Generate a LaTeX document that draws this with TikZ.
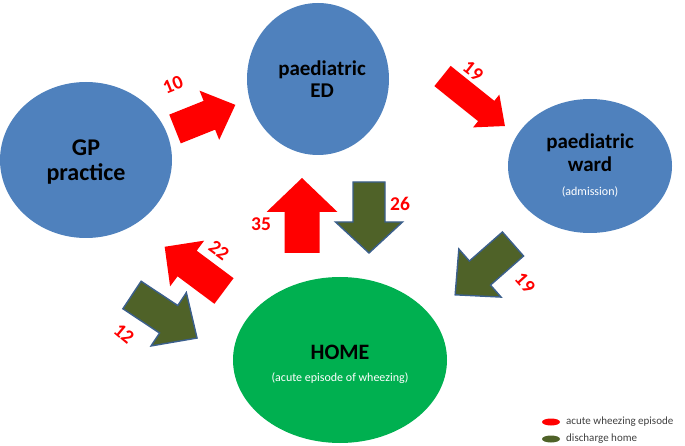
\documentclass[tikz,border=0pt]{standalone}
\usepackage{fontspec}
\setmainfont{Carlito}
\definecolor{cblue}{HTML}{4F81BD}
\definecolor{cgreen}{HTML}{00B050}
\definecolor{cred}{HTML}{FF0000}
\definecolor{colive}{HTML}{4F6228}
\definecolor{cedge}{HTML}{3B5F8C}
\definecolor{legtext}{HTML}{404040}
\newcommand\blockarrow[8]{%
  % #1 x, #2 y (tail centre), #3 angle, #4 length, #5 shaft width, #6 head width, #7 head length, #8 style
  \draw[#8, shift={(#1,#2)}, rotate=#3]
    (0,-#5/2) -- ({#4-#7},-#5/2) -- ({#4-#7},-#6/2) -- (#4,0) -- ({#4-#7},#6/2) -- ({#4-#7},#5/2) -- (0,#5/2) -- cycle;}
\tikzset{
  place/.style={ellipse, fill=cblue, inner sep=0pt, font=\bfseries, align=center},
  homeplace/.style={ellipse, fill=cgreen, inner sep=0pt, font=\bfseries, align=center},
  redarrow/.style={fill=cred, draw=none},
  olivearrow/.style={fill=colive, draw=cedge, line width=1.4pt, line join=miter},
  numlabel/.style={text=cred, font=\fontsize{19.5}{19.5}\selectfont\bfseries, inner sep=0pt},
  sub/.style={text=white, font=\fontsize{12}{12}\selectfont},
  legdot/.style={ellipse, minimum width=18pt, minimum height=7pt, inner sep=0pt},
  legtxt/.style={text=legtext, font=\fontsize{11}{12}\selectfont, anchor=west, inner sep=0pt}
}
\usetikzlibrary{shapes.geometric}
\begin{document}
\begin{tikzpicture}[x=1pt,y=-1pt]
\useasboundingbox (0,0) rectangle (685,446);
% places
\node[place, minimum width=172pt, minimum height=156pt] (gp) at (86,160) {};
\node[font=\fontsize{24}{25}\selectfont\bfseries, align=center] (gpt) at (86,162) {GP\\practice};
\node[place, minimum width=142pt, minimum height=152pt] (ed) at (318,79) {};
\node[font=\fontsize{21}{22}\selectfont\bfseries, align=center] (edt) at (322,79) {paediatric\\ED};
\node[place, minimum width=164pt, minimum height=134pt] (ward) at (590,166) {};
\node[font=\fontsize{21}{23}\selectfont\bfseries, align=center] (wardt) at (590,153) {paediatric\\ward};
\node[sub] (wards) at (590,192) {(admission)};
\node[homeplace, minimum width=214pt, minimum height=166pt] (home) at (340,360) {};
\node[font=\fontsize{22}{22}\selectfont\bfseries] (homet) at (340,352) {HOME};
\node[sub] (homes) at (340,378) {(acute episode of wheezing)};
% block arrows
\blockarrow{175}{129}{21.8}{65}{31}{53}{28}{redarrow}
\blockarrow{442.5}{76}{-38.7}{80}{26}{42}{24}{redarrow}
\blockarrow{302}{253}{90}{75}{35}{71}{34}{redarrow}
\blockarrow{369}{182}{-90}{71}{32}{67}{31}{olivearrow}
\blockarrow{224}{291}{143.3}{74}{32}{57}{28}{redarrow}
\blockarrow{132}{295}{-33.5}{78}{33}{64}{34}{olivearrow}
\blockarrow{513}{244}{221.3}{77}{32}{64}{33}{olivearrow}
% numbers
\node[numlabel, rotate=22] (n10) at (173,85) {10};
\node[numlabel, rotate=-38] (n19a) at (473,71) {19};
\node[numlabel] (n35) at (261,224) {35};
\node[numlabel] (n26) at (400,204) {26};
\node[numlabel, rotate=-37] (n22) at (219,250) {22};
\node[numlabel, rotate=-40] (n12) at (124,334) {12};
\node[numlabel, rotate=-48] (n19b) at (525,283) {19};
% legend
\node[legdot, fill=cred] (lr) at (551,422) {};
\node[legtxt] (lrt) at (566,422) {acute wheezing episode};
\node[legdot, fill=colive] (lg) at (551,439) {};
\node[legtxt] (lgt) at (566,439) {discharge home};
\end{tikzpicture}
\end{document}
